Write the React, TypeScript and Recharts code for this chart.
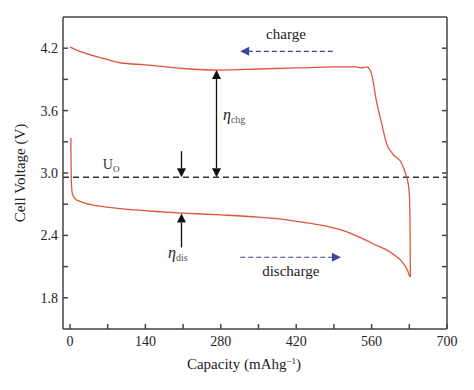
import { ComposedChart, Line, XAxis, YAxis, ReferenceLine, ReferenceDot } from 'recharts';

const chargeCap = [0, 18, 56, 93, 140, 210, 280, 350, 420, 490, 530, 542, 551, 556, 560, 569, 579, 588, 600, 616, 625, 629, 630.5, 631.5, 632];
const chargeV = [4.21, 4.17, 4.11, 4.06, 4.04, 4.005, 3.99, 4.0, 4.01, 4.02, 4.02, 4.01, 4.02, 4.0, 3.95, 3.69, 3.47, 3.28, 3.18, 3.09, 2.96, 2.86, 2.75, 2.4, 2.0];

const dischargeCap = [1.5, 2.2, 3, 4.5, 7, 10, 22, 59, 109, 160, 208, 280, 350, 402, 440, 483, 505, 530, 563, 600, 619, 627, 631];
const dischargeV = [3.34, 3.0, 2.86, 2.8, 2.77, 2.75, 2.72, 2.68, 2.65, 2.63, 2.615, 2.597, 2.575, 2.55, 2.52, 2.48, 2.45, 2.4, 2.32, 2.22, 2.13, 2.06, 2.0];

const xTicks = [0, 70, 140, 210, 280, 350, 420, 490, 560, 630, 700];
const xLabeled = [0, 140, 280, 420, 560, 700];
const yTicks = [1.8, 2.1, 2.4, 2.7, 3.0, 3.3, 3.6, 3.9, 4.2];
const yLabeled = [1.8, 2.4, 3.0, 3.6, 4.2];

const openCircuit = 2.96;

const chargeData = chargeCap.map((c, i) => ({ cap: c, v: chargeV[i] }));
const dischargeData = dischargeCap.map((c, i) => ({ cap: c, v: dischargeV[i] }));

const FONT = '"Liberation Serif", "Times New Roman", serif';
const AXIS = '#444';
const RED = '#e0553c';
const BLUE = '#3c4596';

function arrow(color: string, dash: string | undefined, heads: 'start' | 'end' | 'both', width = 1.3) {
  return (p: any) => {
    const { x1, y1, x2, y2 } = p;
    const len = Math.hypot(x2 - x1, y2 - y1) || 1;
    const ux = (x2 - x1) / len;
    const uy = (y2 - y1) / len;
    const hl = 9;
    const hw = 4.5;
    const head = (tx: number, ty: number, dx: number, dy: number) => {
      const bx = tx - dx * hl;
      const by = ty - dy * hl;
      return `${tx},${ty} ${bx - dy * hw},${by + dx * hw} ${bx + dy * hw},${by - dx * hw}`;
    };
    const sx = heads !== 'end' ? x1 + ux * hl : x1;
    const sy = heads !== 'end' ? y1 + uy * hl : y1;
    const ex = heads !== 'start' ? x2 - ux * hl : x2;
    const ey = heads !== 'start' ? y2 - uy * hl : y2;
    return (
      <g>
        <line x1={sx} y1={sy} x2={ex} y2={ey} stroke={color} strokeWidth={width} strokeDasharray={dash} />
        {heads !== 'end' && <polygon points={head(x1, y1, -ux, -uy)} fill={color} />}
        {heads !== 'start' && <polygon points={head(x2, y2, ux, uy)} fill={color} />}
      </g>
    );
  };
}

function textAt(content: (cx: number, cy: number) => any) {
  return (p: any) => content(p.cx, p.cy);
}

export default function App() {
  return (
    <div style={{ position: 'absolute', left: 0, top: 0, background: '#fff' }}>
      <ComposedChart width={474} height={390} margin={{ top: 16, right: 26, bottom: 0, left: 0 }}>
        <XAxis
          dataKey="cap"
          type="number"
          domain={[-13, 700]}
          ticks={xTicks}
          allowDataOverflow
          height={61}
          tickSize={-5}
          tickMargin={12}
          stroke={AXIS}
          strokeWidth={1.5}
          tickFormatter={(v) => (xLabeled.includes(v) ? String(v) : '')}
          tick={{ fill: '#222', fontSize: 14, fontFamily: FONT }}
          label={{
            content: (props: any) => {
              const vb = props.viewBox;
              return (
                <text x={vb.x + vb.width / 2 - 11} y={vb.y + 40} textAnchor="middle" fill="#222" fontSize={15} fontFamily={FONT}>
                  Capacity (mAhg
                  <tspan dy={-5} fontSize={9}>−1</tspan>
                  <tspan dy={5}>)</tspan>
                </text>
              );
            },
          }}
        />
        <XAxis
          xAxisId="top"
          orientation="top"
          type="number"
          domain={[-13, 700]}
          ticks={xTicks}
          allowDataOverflow
          height={1}
          tickSize={-5}
          stroke={AXIS}
          strokeWidth={1.5}
          tickFormatter={() => ''}
        />
        <YAxis
          type="number"
          domain={[1.5, 4.5]}
          ticks={yTicks}
          allowDataOverflow
          width={63}
          tickSize={-5}
          tickMargin={10}
          stroke={AXIS}
          strokeWidth={1.5}
          tickFormatter={(v) => (yLabeled.includes(v) ? v.toFixed(1) : '')}
          tick={{ fill: '#222', fontSize: 14, fontFamily: FONT }}
          label={{
            content: (props: any) => {
              const vb = props.viewBox;
              const cy = vb.y + vb.height / 2;
              return (
                <text x={22} y={cy} transform={`rotate(-90, 22, ${cy})`} textAnchor="middle" dominantBaseline="middle" fill="#222" fontSize={15} fontFamily={FONT}>
                  Cell Voltage (V)
                </text>
              );
            },
          }}
        />
        <YAxis
          yAxisId="right"
          orientation="right"
          type="number"
          domain={[1.5, 4.5]}
          ticks={yTicks}
          allowDataOverflow
          width={1}
          tickSize={-5}
          stroke={AXIS}
          strokeWidth={1.5}
          tickFormatter={() => ''}
        />

        <ReferenceLine y={openCircuit} stroke="#333" strokeWidth={1.5} strokeDasharray="6 4" />

        <Line data={chargeData} dataKey="v" type="monotone" stroke={RED} strokeWidth={1.3} dot={false} isAnimationActive={false} />
        <Line data={dischargeData} dataKey="v" type="monotone" stroke={RED} strokeWidth={1.3} dot={false} isAnimationActive={false} />

        <ReferenceLine segment={[{ x: 272, y: 3.99 }, { x: 272, y: openCircuit }]} shape={arrow('#111', undefined, 'both')} />
        <ReferenceLine segment={[{ x: 207, y: 3.21 }, { x: 207, y: openCircuit }]} shape={arrow('#111', undefined, 'end')} />
        <ReferenceLine segment={[{ x: 207, y: 2.285 }, { x: 207, y: 2.61 }]} shape={arrow('#111', undefined, 'end')} />
        <ReferenceLine segment={[{ x: 488, y: 4.17 }, { x: 316, y: 4.17 }]} shape={arrow(BLUE, '5 3', 'end', 1.2)} />
        <ReferenceLine segment={[{ x: 316, y: 2.19 }, { x: 503, y: 2.19 }]} shape={arrow(BLUE, '5 3', 'end', 1.2)} />

        <ReferenceDot
          x={401}
          y={4.325}
          r={1}
          shape={textAt((cx, cy) => (
            <text x={cx} y={cy} textAnchor="middle" dominantBaseline="middle" fill="#222" fontSize={15} fontFamily={FONT}>
              charge
            </text>
          ))}
        />
        <ReferenceDot
          x={410}
          y={2.043}
          r={1}
          shape={textAt((cx, cy) => (
            <text x={cx} y={cy} textAnchor="middle" dominantBaseline="middle" fill="#222" fontSize={15} fontFamily={FONT}>
              discharge
            </text>
          ))}
        />
        <ReferenceDot
          x={61}
          y={3.04}
          r={1}
          shape={textAt((cx, cy) => (
            <text x={cx} y={cy} fill="#333" fontSize={14} fontFamily={FONT}>
              U<tspan dy={3} fontSize={9}>O</tspan>
            </text>
          ))}
        />
        <ReferenceDot
          x={284}
          y={3.51}
          r={1}
          shape={textAt((cx, cy) => (
            <text x={cx} y={cy} fill="#222" fontSize={16} fontStyle="italic" fontFamily={FONT}>
              η<tspan dy={3} fontSize={10} fontStyle="normal" fill="#555">chg</tspan>
            </text>
          ))}
        />
        <ReferenceDot
          x={182}
          y={2.18}
          r={1}
          shape={textAt((cx, cy) => (
            <text x={cx} y={cy} fill="#222" fontSize={16} fontStyle="italic" fontFamily={FONT}>
              η<tspan dy={3} fontSize={10} fontStyle="normal" fill="#555">dis</tspan>
            </text>
          ))}
        />
      </ComposedChart>
    </div>
  );
}
